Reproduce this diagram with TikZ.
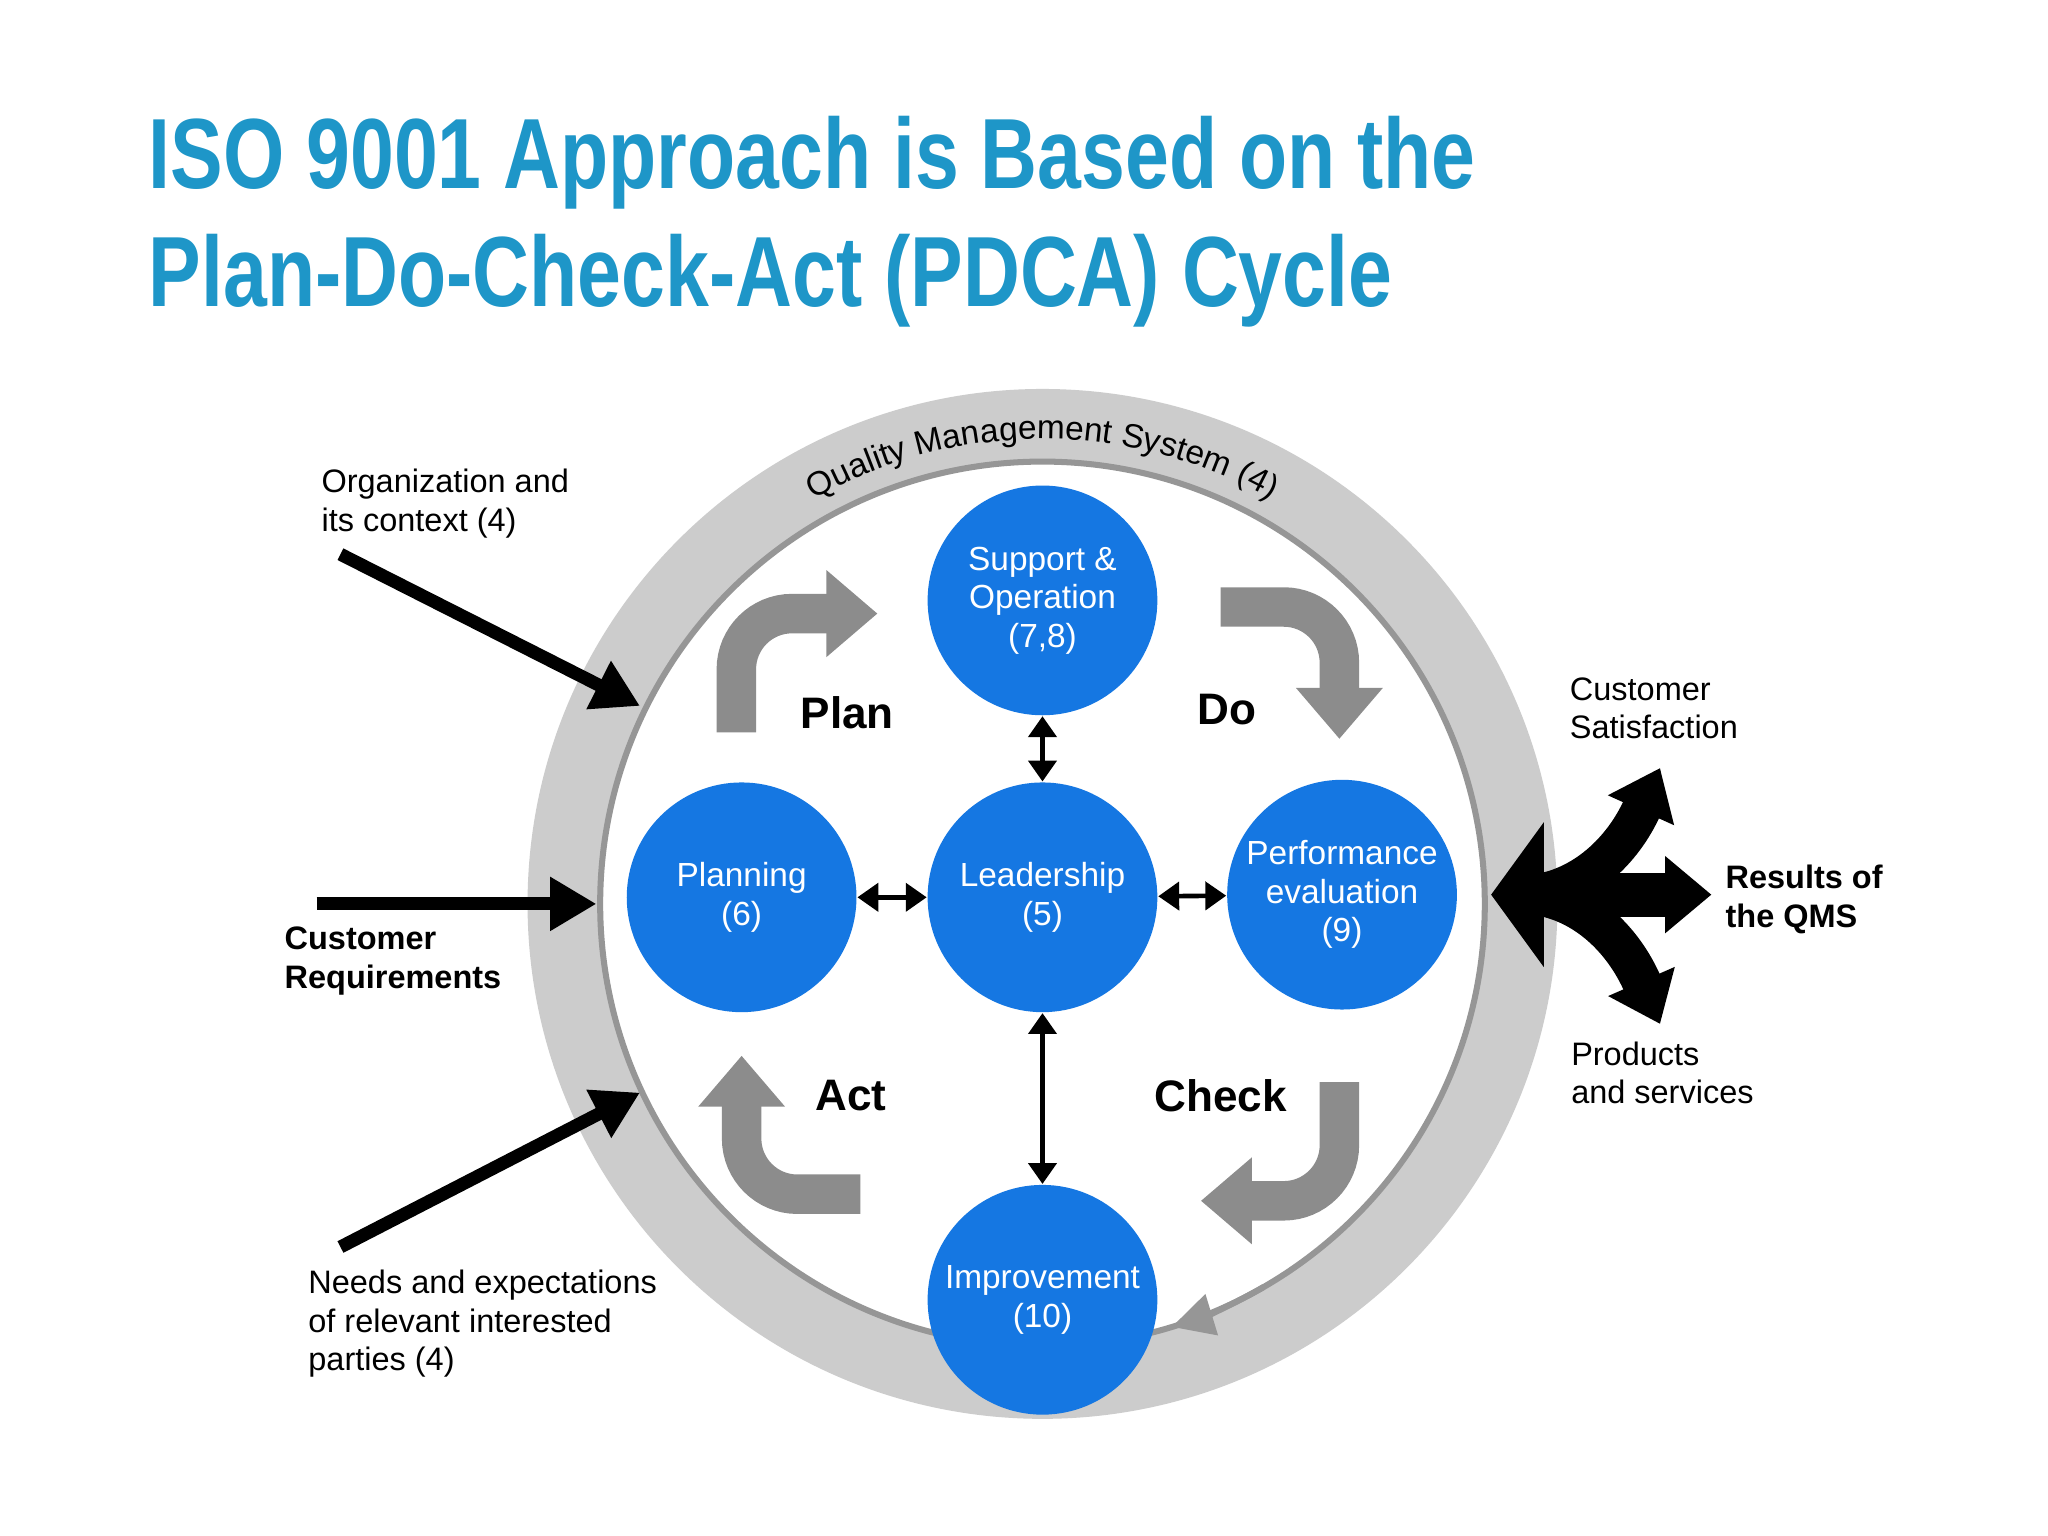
\documentclass[tikz,border=0pt]{standalone}
\usepackage{fontspec}
\setmainfont{Liberation Sans}
\usetikzlibrary{arrows.meta,decorations.text,calc}
\definecolor{titleblue}{RGB}{30,150,200}
\definecolor{cblue}{RGB}{21,119,226}
\definecolor{ringgray}{RGB}{204,204,204}
\definecolor{bordergray}{RGB}{150,150,150}
\definecolor{arrgray}{RGB}{140,140,140}
\begin{document}
\begin{tikzpicture}[x=0.01cm,y=0.01cm,
  bc/.style={circle,fill=cblue,minimum size=1.74cm,inner sep=0pt,text=white,align=center,font=\fontsize{7.2}{8.3}\selectfont},
  dbl/.style={line width=1pt,{Triangle[width=6pt,length=4.5pt]}-{Triangle[width=6pt,length=4.5pt]}},
  garr/.style={line width=8.5pt,draw=arrgray,rounded corners=12,-{Triangle[width=18pt,length=11pt]}},
  barr/.style={line width=2.8pt,-{Triangle[width=11pt,length=10pt]}},
  lbl/.style={font=\bfseries\fontsize{9.5}{11}\selectfont},
  side/.style={align=left,inner sep=0pt,font=\fontsize{7}{8.25}\selectfont},
  ttl/.style={anchor=base west,inner sep=0pt,text=titleblue,font=\bfseries\fontsize{21.5}{24}\selectfont}]
\useasboundingbox (0,0) rectangle (1552,1164);
\fill[white] (0,0) rectangle (1552,1164);
% title
\node[ttl] (t1) at (112,1021) {\scalebox{0.79}[1]{ISO 9001 Approach is Based on the}};
\node[ttl] (t2) at (112,932) {\scalebox{0.79}[1]{Plan-Do-Check-Act (PDCA) Cycle}};
% ring
\coordinate (c) at (790,479);
\fill[ringgray] (c) circle (3.9cm);
\fill[white] (c) circle (3.35cm);
\draw[bordergray,line width=1.3pt] (c) circle (3.35cm);
\path[decorate,decoration={text along path,text align=center,
  text={|\fontsize{7.2}{8}\selectfont|Quality Management System (4)}}]
  ($(c)+(124:3.52cm)$) arc[start angle=124,end angle=56,radius=3.52cm];
\draw[bordergray,line width=1.3pt,-{Triangle[width=9pt,length=9pt]}] ($(c)+(-60:3.35cm)$) arc[start angle=-60,end angle=-73,radius=3.35cm];
% circles
\node[bc] (sup) at (790,709) {Support \&\\Operation\\(7,8)};
\node[bc] (plan) at (562,484) {Planning\\(6)};
\node[bc] (lead) at (790,484) {Leadership\\(5)};
\node[bc] (perf) at (1017,486) {Performance\\evaluation\\(9)};
\node[bc] (imp) at (790,179) {Improvement\\(10)};
\draw[dbl] (sup) -- (lead);
\draw[dbl] (plan) -- (lead);
\draw[dbl] (lead) -- (perf);
\draw[dbl] (lead) -- (imp);
% gray cycle arrows
\coordinate (p0) at (558,609); \coordinate (p1) at (665,699);
\coordinate (d0) at (925,704); \coordinate (d1) at (1015,604);
\coordinate (c0) at (1015,344); \coordinate (c1) at (910,254);
\coordinate (a0) at (652,259); \coordinate (a1) at (562,364);
\draw[garr] (p0) |- (p1);
\draw[garr] (d0) -| (d1);
\draw[garr] (c0) |- (c1);
\draw[garr] (a0) -| (a1);
\node[lbl] (lp) at (642,624) {Plan};
\node[lbl] (ld) at (930,626) {Do};
\node[lbl] (la) at (645,334) {Act};
\node[lbl] (lc) at (925,334) {Check};
% left inputs
\node[side,anchor=north west] (org) at (243,809) {Organization and\\its context (4)};
\node[side,anchor=north west,font=\bfseries\fontsize{7}{8.25}\selectfont] (creq) at (215,462) {Customer\\Requirements};
\node[side,anchor=north west] (needs) at (233,202) {Needs and expectations\\of relevant interested\\parties (4)};
\coordinate (i1s) at (258,744); \coordinate (i1e) at (485,629);
\coordinate (i2s) at (240,479); \coordinate (i2e) at (452,479);
\coordinate (i3s) at (258,219); \coordinate (i3e) at (485,336);
\draw[barr] (i1s) -- (i1e);
\draw[barr] (i2s) -- (i2e);
\draw[barr] (i3s) -- (i3e);
% right outputs
\node[side,anchor=north west] (csat) at (1189,651) {Customer\\Satisfaction};
\node[side,anchor=north west,font=\bfseries\fontsize{7}{8.25}\selectfont] (res) at (1307,509) {Results of\\the QMS};
\node[side,anchor=north west] (prod) at (1190,375) {Products\\and services};
\fill (1130,486) -- (1170,541) -- (1170,431) -- cycle;
\fill (1165,469) rectangle (1200,503);
\coordinate (o0) at (1160,486);
\coordinate (oR) at (1297,486);
\coordinate (oU) at (1258,582);
\coordinate (oD) at (1258,388);
\draw[line width=9.5pt,-{Triangle[width=16pt,length=10pt]}] (o0) -- (oR);
\draw[line width=8.5pt,-{Triangle[width=15pt,length=10pt]}] (o0) .. controls (1200,490) and (1230,520) .. (oU);
\draw[line width=8.5pt,-{Triangle[width=15pt,length=10pt]}] (o0) .. controls (1200,482) and (1230,452) .. (oD);
\end{tikzpicture}
\end{document}
